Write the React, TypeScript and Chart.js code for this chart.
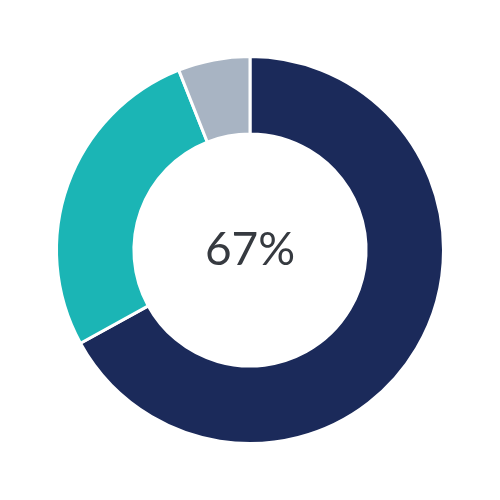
import React, { useEffect, useRef } from "react";
import Chart from "chart.js/auto";

const labels = ["Navy", "Teal", "Gray"];
const values = [67, 27, 6];
const colors = ["#1b2a5a", "#1bb5b5", "#a8b4c3"];
const centerText = "67%";

export default function App() {
  const canvasRef = useRef<HTMLCanvasElement>(null);

  useEffect(() => {
    if (!canvasRef.current) return;

    // draw the percentage in the hole
    const centerTextPlugin = {
      id: "centerText",
      afterDraw(chart: Chart) {
        const { ctx, chartArea } = chart;
        const x = (chartArea.left + chartArea.right) / 2;
        const y = (chartArea.top + chartArea.bottom) / 2;
        ctx.save();
        ctx.font = "400 46px Lato, 'Open Sans', sans-serif";
        ctx.fillStyle = "#363a40";
        ctx.textAlign = "center";
        ctx.textBaseline = "middle";
        ctx.fillText(centerText, x, y);
        ctx.restore();
      },
    };

    const chart = new Chart(canvasRef.current, {
      type: "doughnut",
      data: {
        labels,
        datasets: [
          {
            data: values,
            backgroundColor: colors,
            borderColor: "#ffffff",
            borderWidth: 3,
          },
        ],
      },
      options: {
        animation: false,
        responsive: true,
        maintainAspectRatio: false,
        cutout: "60%",
        layout: { padding: 55 },
        plugins: {
          legend: { display: false },
          tooltip: { enabled: false },
        },
      },
      plugins: [centerTextPlugin],
    });

    return () => chart.destroy();
  }, []);

  return (
    <div style={{ position: "absolute", left: 0, top: 0, width: 500, height: 500, background: "#fff" }}>
      <canvas ref={canvasRef} />
    </div>
  );
}
